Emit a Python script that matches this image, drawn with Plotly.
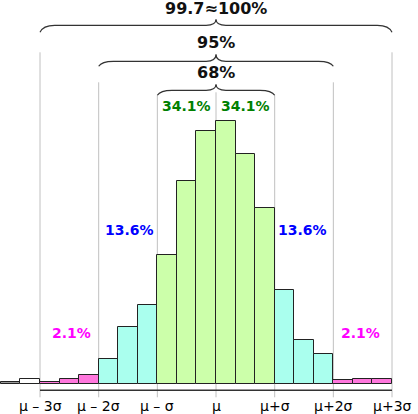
import plotly.graph_objects as go

# histogram of a normal sample, 3 bins per sigma, from -11/3 sigma to +3 sigma
bin_left = [-11 / 3 + i / 3 for i in range(20)]
counts = [2, 5.3, 2, 5.3, 9.3, 25, 57.3, 79, 129.6, 203.6,
          253, 263, 230.3, 176.6, 94, 44, 30.3, 4, 5.6, 5.6]
bar_colors = ['#999999', '#ffffff', '#ff77dd', '#ff77dd', '#ff77dd',
              '#aaffee', '#aaffee', '#aaffee',
              '#ccffaa', '#ccffaa', '#ccffaa', '#ccffaa', '#ccffaa', '#ccffaa',
              '#aaffee', '#aaffee', '#aaffee',
              '#ff77dd', '#ff77dd', '#ff77dd']

tick_vals = [-3, -2, -1, 0, 1, 2, 3]
tick_text = ['μ – 3σ', 'μ – 2σ', 'μ – σ', 'μ', 'μ+σ', 'μ+2σ', 'μ+3σ']

band_labels = ['68%', '95%', '99.7≈100%']
side_labels = ['34.1%', '13.6%', '2.1%']
side_colors = ['#008000', '#0000ff', '#ff00ff']

FONT = 'DejaVu Sans'

fig = go.Figure()
fig.add_trace(go.Bar(
    x=[b + 1 / 6 for b in bin_left], y=counts, width=1 / 3,
    marker=dict(color=bar_colors, line=dict(color='#222222', width=1)),
    hoverinfo='skip'))

shapes = []
annotations = []

# grey guide lines at each sigma
line_top = {0: 292, 1: 289, 2: 302, 3: 332}
for t in tick_vals:
    shapes.append(dict(type='line', xref='x', yref='y', x0=t, x1=t,
                       y0=-13, y1=line_top[abs(t)], layer='below',
                       line=dict(color='#c0c0c0', width=1)))

# baseline under the histogram
shapes.append(dict(type='line', xref='x', yref='y', x0=-3, x1=3, y0=-6, y1=-6,
                   line=dict(color='#333333', width=1.5)))


def brace(k, y_end, y_mid, y_tip):
    x0, x1 = -k, k
    d = 0.25
    c = 0.17
    return (f'M {x0},{y_end} Q {x0 + 0.05},{y_mid} {x0 + d},{y_mid} '
            f'L {-c},{y_mid} Q 0,{y_mid} 0,{y_tip} '
            f'Q 0,{y_mid} {c},{y_mid} L {x1 - d},{y_mid} '
            f'Q {x1 - 0.05},{y_mid} {x1},{y_end}')


brace_y = [(289, 294, 300), (318, 323, 330), (352, 359, 365)]
label_y = [312, 342, 376]
for k in range(3):
    shapes.append(dict(type='path', xref='x', yref='y',
                       path=brace(k + 1, *brace_y[k]),
                       line=dict(color='#333333', width=1.2)))
    annotations.append(dict(x=0, y=label_y[k], xref='x', yref='y',
                            text='<b>' + band_labels[k] + '</b>', showarrow=False,
                            font=dict(family=FONT, size=16, color='#111111')))

side_x = [0.5, 1.48, 2.47]
side_y = [278, 154, 51]
for k in range(3):
    for s in (-1, 1):
        annotations.append(dict(x=s * side_x[k], y=side_y[k], xref='x', yref='y',
                                text='<b>' + side_labels[k] + '</b>', showarrow=False,
                                font=dict(family=FONT, size=14, color=side_colors[k])))

for t, lab in zip(tick_vals, tick_text):
    annotations.append(dict(x=t, y=-22, xref='x', yref='y', text=lab,
                            showarrow=False,
                            font=dict(family=FONT, size=14, color='#000000')))

fig.update_layout(
    width=418, height=414,
    margin=dict(l=0, r=0, t=0, b=0),
    paper_bgcolor='white', plot_bgcolor='white',
    showlegend=False, bargap=0,
    xaxis=dict(range=[-3.682, 3.443], visible=False, fixedrange=True),
    yaxis=dict(range=[-29.7, 384.3], visible=False, fixedrange=True),
    shapes=shapes, annotations=annotations,
)

# drop the page's default body margin so the figure sits at the window corner
fig.write_html("out.html", config={'displayModeBar': False},
               post_script="document.body.style.margin='0';"
                           "document.body.style.overflow='hidden';")
